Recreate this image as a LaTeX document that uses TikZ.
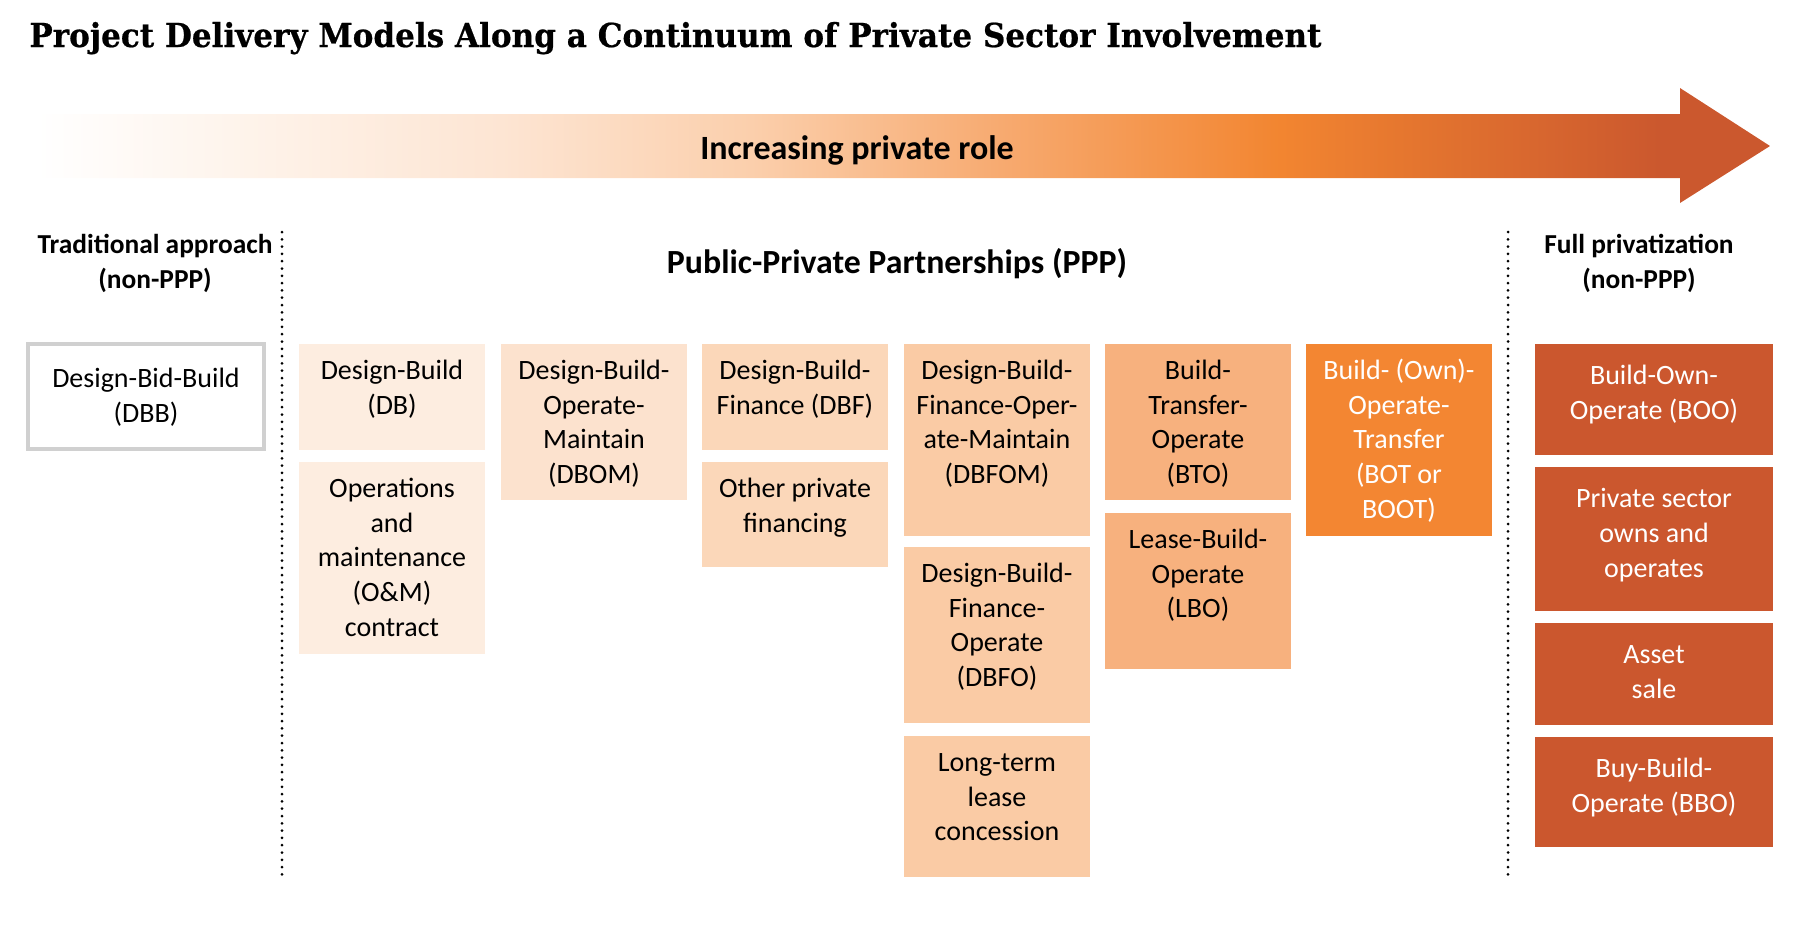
\documentclass[tikz,border=0pt]{standalone}
\usepackage{fontspec}
\setmainfont{Carlito}
\newfontfamily\titlefont{DejaVu Serif}[BoldFeatures={FakeBold=0.6}]
\usepackage{graphicx}
\definecolor{cA}{RGB}{253,237,224}
\definecolor{cB}{RGB}{252,226,206}
\definecolor{cC}{RGB}{251,215,185}
\definecolor{cD}{RGB}{250,203,165}
\definecolor{cE}{RGB}{247,177,126}
\definecolor{cF}{RGB}{243,134,50}
\definecolor{cG}{RGB}{203,87,46}
\definecolor{bordergray}{RGB}{208,208,208}
\definecolor{arA}{RGB}{254,243,234}
\definecolor{arB}{RGB}{253,229,211}
\definecolor{arE}{RGB}{251,207,172}
\definecolor{arF}{RGB}{247,170,112}
\definecolor{arC}{RGB}{242,133,48}
\definecolor{arD}{RGB}{203,88,46}
\pgfdeclarehorizontalshading{arrowshade}{100bp}{color(0bp)=(white); color(25bp)=(white); color(31.1bp)=(arA); color(38.4bp)=(arB); color(45.6bp)=(arE); color(52.8bp)=(arF); color(60.9bp)=(arC); color(71.8bp)=(arD); color(100bp)=(arD)}
\newcommand\bxfont{\fontsize{14}{17.4}\selectfont}
\newcommand\hdfont{\fontsize{13.7}{17.5}\selectfont\bfseries}
\begin{document}
\begin{tikzpicture}[x=0.5pt,y=-0.5pt,
  pbox/.style={inner sep=0pt, outer sep=0pt, anchor=north west, minimum width=93pt},
  wbox/.style={inner sep=0pt, outer sep=0pt, anchor=north west, minimum width=119pt, fill=cG},
  ptext/.style={inner sep=0pt, anchor=north, align=center, font=\bxfont},
  head/.style={inner sep=0pt, anchor=north, align=center, font=\hdfont},
  sep/.style={line width=1.5pt, line cap=round, dash pattern=on 0pt off 3.65pt}]
\useasboundingbox (0,0) rectangle (1812,932);
% title
\node[inner sep=0pt, anchor=base west] (title) at (29,47)
  {\resizebox{646pt}{\height}{\titlefont\fontsize{16.5}{20}\selectfont\bfseries Project Delivery Models Along a Continuum of Private Sector Involvement}};
% arrow
\shade[shading=arrowshade] (37,114) -- (1680,114) -- (1680,88) -- (1770,146) -- (1680,203) -- (1680,178) -- (37,178) -- cycle;
\node[inner sep=0pt, anchor=base, font=\fontsize{17}{20}\selectfont\bfseries] (arrowlabel) at (857,159) {Increasing private role};
% headings
\node[head] (trad) at (155,228.5) {\strut Traditional approach\\(non-PPP)};
\node[inner sep=0pt, anchor=base, font=\fontsize{16.9}{20}\selectfont\bfseries] (ppp) at (897,273) {Public-Private Partnerships (PPP)};
\node[head] (full) at (1639,228.5) {\strut Full privatization\\(non-PPP)};
% separators
\coordinate (s1a) at (282,232); \coordinate (s1b) at (282,879);
\coordinate (s2a) at (1508,232); \coordinate (s2b) at (1508,879);
\draw[sep] (s1a) -- (s1b);
\draw[sep] (s2a) -- (s2b);
% DBB
\node[draw=bordergray, line width=2pt, fill=white, inner sep=0pt, outer sep=0pt, minimum width=118pt, minimum height=52.5pt] (dbb) at (146,396.5) {};
\node[ptext] (dbbt) at ([yshift=-9.5pt]dbb.north) {\strut Design-Bid-Build\\(DBB)};
% column 1
\node[pbox, fill=cA, minimum height=53pt] (db) at (299,344) {};
\node[ptext] (dbt) at ([yshift=-5.3pt]db.north) {\strut Design-Build\\(DB)};
\node[pbox, fill=cA, minimum height=96pt] (om) at (299,462) {};
\node[ptext] (omt) at ([yshift=-5.3pt]om.north) {\strut Operations\\and\\maintenance\\(O\&M)\\contract};
% column 2
\node[pbox, fill=cB, minimum height=78pt] (dbom) at (501,344) {};
\node[ptext] (dbomt) at ([yshift=-5.3pt]dbom.north) {\strut Design-Build-\\Operate-\\Maintain\\(DBOM)};
% column 3
\node[pbox, fill=cC, minimum height=53pt] (dbf) at (702,344) {};
\node[ptext] (dbft) at ([yshift=-5.3pt]dbf.north) {\strut Design-Build-\\Finance (DBF)};
\node[pbox, fill=cC, minimum height=52.5pt] (oth) at (702,462) {};
\node[ptext] (otht) at ([yshift=-5.3pt]oth.north) {\strut Other private\\financing};
% column 4
\node[pbox, fill=cD, minimum height=96pt] (dbfom) at (904,344) {};
\node[ptext] (dbfomt) at ([yshift=-5.3pt]dbfom.north) {\strut Design-Build-\\Finance-Oper-\\ate-Maintain\\(DBFOM)};
\node[pbox, fill=cD, minimum height=88pt] (dbfo) at (904,547) {};
\node[ptext] (dbfot) at ([yshift=-5.3pt]dbfo.north) {\strut Design-Build-\\Finance-\\Operate\\(DBFO)};
\node[pbox, fill=cD, minimum height=70.5pt] (lt) at (904,736) {};
\node[ptext] (ltt) at ([yshift=-5.3pt]lt.north) {\strut Long-term\\lease\\concession};
% column 5
\node[pbox, fill=cE, minimum height=78pt] (bto) at (1105,344) {};
\node[ptext] (btot) at ([yshift=-5.3pt]bto.north) {\strut Build-\\Transfer-\\Operate\\(BTO)};
\node[pbox, fill=cE, minimum height=78pt] (lbo) at (1105,513) {};
\node[ptext] (lbot) at ([yshift=-5.3pt]lbo.north) {\strut Lease-Build-\\Operate\\(LBO)};
% column 6
\node[pbox, fill=cF, minimum height=96pt] (bot) at (1306,344) {};
\node[ptext, text=white] (bott) at ([yshift=-5.3pt]bot.north) {\strut Build- (Own)-\\Operate-\\Transfer\\(BOT or\\BOOT)};
% column 7
\node[wbox, minimum height=55.5pt] (boo) at (1535,344) {};
\node[ptext, text=white] (boot) at ([yshift=-8.1pt]boo.north) {\strut Build-Own-\\Operate (BOO)};
\node[wbox, minimum height=72pt] (ps) at (1535,467) {};
\node[ptext, text=white] (pst) at ([yshift=-8.1pt]ps.north) {\strut Private sector\\owns and\\operates};
\node[wbox, minimum height=51pt] (as) at (1535,623) {};
\node[ptext, text=white] (ast) at ([yshift=-8.1pt]as.north) {\strut Asset\\sale};
\node[wbox, minimum height=55pt] (bbo) at (1535,737) {};
\node[ptext, text=white] (bbot) at ([yshift=-8.1pt]bbo.north) {\strut Buy-Build-\\Operate (BBO)};
\end{tikzpicture}
\end{document}
